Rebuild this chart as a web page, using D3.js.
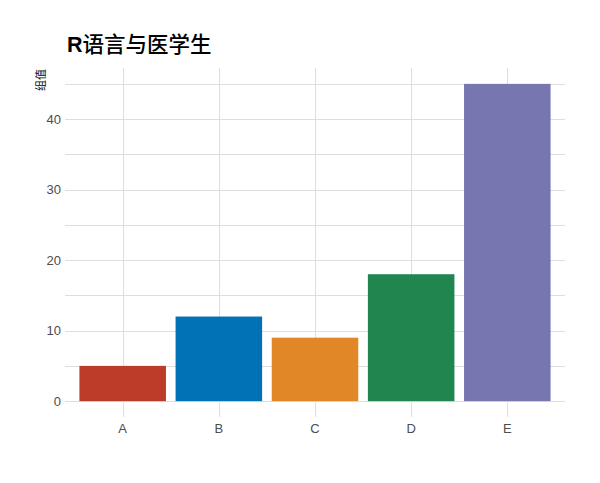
<!DOCTYPE html>
<html>
<head>
<meta charset="utf-8">
<script src="https://cdn.jsdelivr.net/npm/d3@7"></script>
<style>
  body { margin: 0; background: #fff; }
  svg { display: block; font-family: "Liberation Sans", Arial, sans-serif; }
</style>
</head>
<body>
<div id="chart"></div>
<script>
// data
const categories = ["A", "B", "C", "D", "E"];
const values = [5, 12, 9, 18, 45];
const colors = ["#BC3C29", "#0072B5", "#E18727", "#20854E", "#7876B1"];
const yTicks = [0, 10, 20, 30, 40];
const yMinor = [5, 15, 25, 35, 45];

const width = 600, height = 483;
const margin = {top: 68, right: 35, bottom: 66, left: 65};

const svg = d3.select("#chart").append("svg")
    .attr("width", width)
    .attr("height", height);

// ggplot style expansion: continuous 5%, discrete 0.6
const y = d3.scaleLinear()
    .domain([-2.25, 47.25])
    .range([height - margin.bottom, margin.top]);

const xPos = d3.scalePoint()
    .domain(categories)
    .range([0, 4]);
const x = d3.scaleLinear()
    .domain([-0.6, 4.6])
    .range([margin.left, width - margin.right]);
const bw = (x(0.9) - x(0)); // bar width 0.9

const grid = svg.append("g")
    .attr("stroke", "#dedede")
    .attr("stroke-width", 1);

grid.selectAll("line.minor")
  .data(yMinor)
  .join("line")
    .attr("class", "minor")
    .attr("x1", x.range()[0]).attr("x2", x.range()[1])
    .attr("y1", d => Math.round(y(d)) + 0.5)
    .attr("y2", d => Math.round(y(d)) + 0.5);

grid.selectAll("line.major")
  .data(yTicks)
  .join("line")
    .attr("class", "major")
    .attr("x1", x.range()[0]).attr("x2", x.range()[1])
    .attr("y1", d => Math.round(y(d)) + 0.5)
    .attr("y2", d => Math.round(y(d)) + 0.5);

grid.selectAll("line.vert")
  .data(categories)
  .join("line")
    .attr("class", "vert")
    .attr("x1", d => Math.round(x(xPos(d))) + 0.5)
    .attr("x2", d => Math.round(x(xPos(d))) + 0.5)
    .attr("y1", y.range()[0]).attr("y2", y.range()[1]);

// bars
svg.append("g")
  .selectAll("rect")
  .data(categories)
  .join("rect")
    .attr("x", d => x(xPos(d)) - bw / 2)
    .attr("width", bw)
    .attr("y", (d, i) => y(values[i]))
    .attr("height", (d, i) => y(0) - y(values[i]))
    .attr("fill", (d, i) => colors[i]);

// y axis labels
svg.append("g")
  .selectAll("text")
  .data(yTicks)
  .join("text")
    .attr("x", margin.left - 4)
    .attr("y", d => y(d))
    .attr("dy", "0.35em")
    .attr("text-anchor", "end")
    .attr("fill", "#4d4d4d")
    .attr("font-size", 13)
    .text(d => d);

// x axis labels
svg.append("g")
  .selectAll("text")
  .data(categories)
  .join("text")
    .attr("x", d => x(xPos(d)))
    .attr("y", y.range()[0] + 16)
    .attr("text-anchor", "middle")
    .attr("fill", "#4d4d4d")
    .attr("font-size", 13)
    .text(d => d);

// y title
svg.append("text")
    .attr("transform", `translate(45,${margin.top + 12}) rotate(-90)`)
    .attr("text-anchor", "middle")
    .attr("font-family", "'Noto Sans CJK SC', sans-serif")
    .attr("font-size", 11)
    .attr("fill", "#000")
    .text("组值");

// title: bold latin R, CJK a bit lighter like the reference
const title = svg.append("text")
    .attr("x", 67)
    .attr("y", 52)
    .attr("font-size", 21.5)
    .attr("fill", "#000");
title.append("tspan")
    .attr("font-family", "'Liberation Sans', Arial, sans-serif")
    .attr("font-weight", "bold")
    .text("R");
title.append("tspan")
    .attr("font-family", "'Noto Sans CJK SC', sans-serif")
    .attr("font-weight", 500)
    .text("语言与医学生");
</script>
</body>
</html>
